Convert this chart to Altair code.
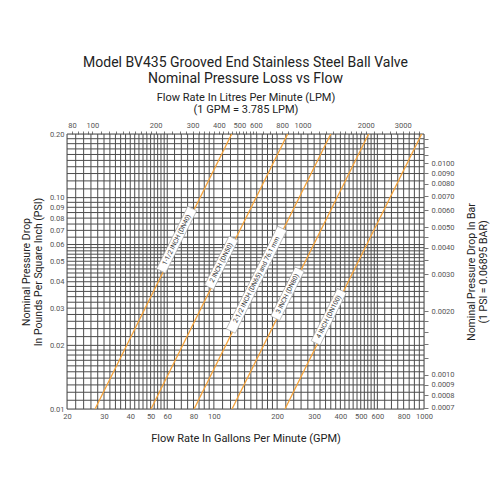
import altair as alt
import pandas as pd

# ---- data ----
valves = ["1-1/2 INCH (DN40)", "2 INCH (DN50)", "2-1/2 INCH (DN65) and 76.1 mm",
          "3 INCH (DN80)", "4 INCH (DN100)"]
psi_low = 0.01
psi_high = 0.20
gpm_at_low = [27.2, 50.2, 80.5, 122, 218]        # GPM where curve meets 0.01 PSI
gpm_at_high = [121.6, 224.5, 360, 545, 975]      # GPM where curve meets 0.20 PSI
label_gpm = [66.5, 108.5, 159.5, 224, 352]
label_psi = [0.0632, 0.0492, 0.0409, 0.0351, 0.0273]

gpm_grid = [20, 22, 24, 26, 28, 30, 32, 34, 36, 38, 40, 42, 44, 46, 48, 50,
            52, 54, 56, 58, 60, 65, 70, 75, 80, 85, 90, 95, 100,
            110, 120, 130, 140, 150, 160, 170, 180, 190, 200,
            220, 240, 260, 280, 300, 320, 340, 360, 380, 400, 420, 440, 460, 480, 500,
            520, 540, 560, 580, 600, 650, 700, 750, 800, 850, 900, 950, 1000]
psi_grid = [0.01, 0.011, 0.012, 0.013, 0.014, 0.015, 0.016, 0.017, 0.018, 0.019, 0.02,
            0.022, 0.024, 0.026, 0.028, 0.03, 0.032, 0.034, 0.036, 0.038, 0.04,
            0.042, 0.044, 0.046, 0.048, 0.05, 0.052, 0.054, 0.056, 0.058,
            0.06, 0.065, 0.07, 0.075, 0.08, 0.085, 0.09, 0.095,
            0.1, 0.11, 0.12, 0.13, 0.14, 0.15, 0.16, 0.17, 0.18, 0.19, 0.2]

gpm_labels = [20, 30, 40, 50, 60, 80, 100, 200, 300, 400, 500, 600, 800, 1000]
psi_labels = [0.01, 0.02, 0.03, 0.04, 0.05, 0.06, 0.07, 0.08, 0.09, 0.1, 0.2]

lpm_ticks = [80, 85, 90, 95, 100, 110, 120, 130, 140, 150, 160, 170, 180, 190, 200,
             220, 240, 260, 280, 300, 320, 340, 360, 380, 400, 420, 440, 460, 480, 500,
             520, 540, 560, 580, 600, 650, 700, 750, 800,
             850, 900, 950, 1000, 1100, 1200, 1300, 1400, 1500, 1600, 1700, 1800,
             1900, 2000, 2200, 2400, 2600, 2800, 3000, 3200, 3400, 3600]
lpm_labels = [80, 100, 200, 300, 400, 500, 600, 800, 1000, 2000, 3000]

bar_ticks = [0.0007, 0.0008, 0.0009, 0.001, 0.0012, 0.0014, 0.0016, 0.0018, 0.002,
             0.0025, 0.003, 0.0035, 0.004, 0.0045, 0.005, 0.006, 0.007, 0.008,
             0.009, 0.01, 0.011, 0.012, 0.013]
bar_labels = [0.0007, 0.0008, 0.0009, 0.001, 0.002, 0.003, 0.004, 0.005, 0.006,
              0.007, 0.008, 0.009, 0.01]

GPM_TO_LPM = 3.785
PSI_TO_BAR = 0.06895

# ---- tables ----
rows = []
for v, lo, hi in zip(valves, gpm_at_low, gpm_at_high):
    rows.append({"valve": v, "gpm": lo, "psi": psi_low})
    rows.append({"valve": v, "gpm": hi, "psi": psi_high})
lines_df = pd.DataFrame(rows)

def box_path(text):
    hw = (len(text) * 3.75 / 2 + 3.0) / 50.0
    hh = 5.0 / 50.0
    return f"M{-hw},{-hh}L{hw},{-hh}L{hw},{hh}L{-hw},{hh}Z"

labels_df = pd.DataFrame({"valve": valves, "gpm": label_gpm, "psi": label_psi,
                          "path": [box_path(v) for v in valves]})
vgrid_df = pd.DataFrame({"gpm": gpm_grid})
hgrid_df = pd.DataFrame({"psi": psi_grid})

gmin, gmax = gpm_grid[0], gpm_grid[-1]
pmin, pmax = psi_grid[0], psi_grid[-1]
sec_df = pd.DataFrame({"lpm": [gmin * GPM_TO_LPM, gmax * GPM_TO_LPM],
                       "bar": [pmin * PSI_TO_BAR, pmax * PSI_TO_BAR]})

FONT = "Roboto"
GRID = "#4d4d4d"
xs = alt.Scale(type="log", domain=[gmin, gmax], nice=False)
ys = alt.Scale(type="log", domain=[pmin, pmax], nice=False)

def members(vals):
    return "[" + ",".join(repr(v) for v in vals) + "]"

x_axis = alt.Axis(values=gpm_labels, grid=False, ticks=False, domain=False, labelOverlap=False,
                  labelFlush=False, labelExpr="format(datum.value, 'd')",
                  labelFontSize=7.5, labelColor="#555", labelPadding=3, labelFont=FONT,
                  title="Flow Rate In Gallons Per Minute (GPM)", titleFontSize=11,
                  titleFont=FONT, titleFontWeight="normal", titleColor="#222", titlePadding=13)
y_axis = alt.Axis(values=psi_labels, grid=False, ticks=False, domain=False, labelOverlap=False,
                  labelFlush=False, labelExpr="format(datum.value, '.2f')",
                  labelFontSize=7.5, labelColor="#555", labelPadding=3, labelFont=FONT,
                  title=["Nominal Pressure Drop", "In Pounds Per Square Inch (PSI)"],
                  titleFontSize=10.5, titleFont=FONT, titleFontWeight="normal",
                  titleColor="#222", titlePadding=6, titleLineHeight=12)

vgrid = alt.Chart(vgrid_df).mark_rule(color=GRID, strokeWidth=1).encode(
    x=alt.X("gpm:Q", scale=xs, axis=x_axis))
hgrid = alt.Chart(hgrid_df).mark_rule(color=GRID, strokeWidth=1).encode(
    y=alt.Y("psi:Q", scale=ys, axis=y_axis))

curves = alt.Chart(lines_df).mark_line(color="#F5A33A", strokeWidth=1.3, clip=True).encode(
    x=alt.X("gpm:Q", scale=xs), y=alt.Y("psi:Q", scale=ys), detail="valve:N")

boxes = alt.Chart(labels_df).mark_point(filled=True, fill="white", stroke="#a0a0a0",
                                        strokeWidth=0.6, opacity=1, angle=296.6,
                                        size=10000).encode(
    x=alt.X("gpm:Q", scale=xs), y=alt.Y("psi:Q", scale=ys),
    shape=alt.Shape("path:N", scale=None))

texts = alt.Chart(labels_df).mark_text(angle=296.6, fontSize=6.6, font=FONT, color="#333",
                                       align="center", baseline="middle").encode(
    x=alt.X("gpm:Q", scale=xs), y=alt.Y("psi:Q", scale=ys), text="valve:N")

primary = alt.layer(vgrid, hgrid, curves, boxes, texts)

top_axis = alt.Axis(orient="top", values=lpm_ticks, grid=False, domain=False, labelOverlap=False,
                    labelFlush=False, tickSize=3, tickColor="#555", tickWidth=0.8,
                    labelExpr=f"indexof({members(lpm_labels)}, datum.value) >= 0 ? format(datum.value, 'd') : ''",
                    labelFontSize=7.5, labelColor="#555", labelPadding=2, labelFont=FONT,
                    title=["Flow Rate In Litres Per Minute (LPM)", "(1 GPM = 3.785 LPM)"],
                    titleFontSize=11, titleFont=FONT, titleFontWeight="normal",
                    titleColor="#222", titlePadding=7, titleLineHeight=12)
right_axis = alt.Axis(orient="right", values=bar_ticks, grid=False, domain=False, labelOverlap=False,
                      labelFlush=False, tickSize=4, tickColor="#555", tickWidth=0.8,
                      labelExpr=f"indexof({members(bar_labels)}, datum.value) >= 0 ? format(datum.value, '.4f') : ''",
                      labelFontSize=7.5, labelColor="#555", labelPadding=3, labelFont=FONT,
                      title=["Nominal Pressure Drop In Bar", "(1 PSI = 0.06895 BAR)"],
                      titleFontSize=10.5, titleFont=FONT, titleFontWeight="normal",
                      titleColor="#222", titlePadding=10, titleAngle=270, titleLineHeight=12)

secondary = alt.Chart(sec_df).mark_point(opacity=0).encode(
    x=alt.X("lpm:Q", scale=alt.Scale(type="log", domain=[gmin * GPM_TO_LPM, gmax * GPM_TO_LPM], nice=False), axis=top_axis),
    y=alt.Y("bar:Q", scale=alt.Scale(type="log", domain=[pmin * PSI_TO_BAR, pmax * PSI_TO_BAR], nice=False), axis=right_axis))

chart = alt.layer(primary, secondary).resolve_scale(x="independent", y="independent").properties(
    width=357, height=275,
    autosize=alt.AutoSizeParams(type="none"),
    padding={"left": 59, "top": 126, "right": 68, "bottom": 80},
    title=alt.TitleParams(text=["Model BV435 Grooved End Stainless Steel Ball Valve",
                                "Nominal Pressure Loss vs Flow"],
                          fontSize=14, font=FONT, fontWeight="normal", color="#222",
                          anchor="middle", offset=5, lineHeight=16),
).configure_view(stroke=None).configure(background="white")

chart.save("out.html", embed_options={"renderer": "svg", "actions": False})
